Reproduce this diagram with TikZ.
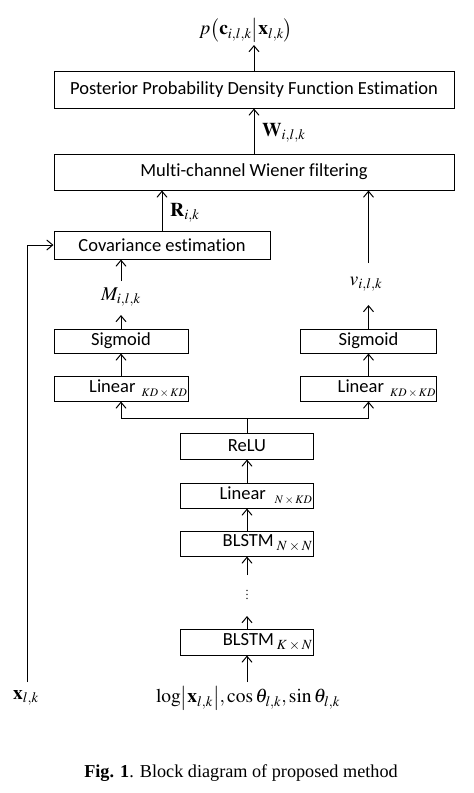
\documentclass[tikz,border=0pt]{standalone}
\usepackage{mathptmx}
\usepackage{fontspec}
\setmainfont{Liberation Serif}
\setsansfont{Carlito}[Ligatures=NoCommon]
\usetikzlibrary{arrows.meta}
\tikzset{
  blk/.style={draw, line width=1pt, inner sep=0pt, anchor=center},
  arr/.style={line width=1pt, -{Straight Barb[length=6pt,width=10pt,line width=1pt]}},
  ln/.style={line width=1pt},
  lbl/.style={font=\fontsize{19.5}{22}\selectfont, inner sep=0pt},
}
\newcommand{\subKD}[1]{\raisebox{-4pt}{\fontsize{11.5}{11.5}\selectfont$#1$}}
\newcommand{\subNN}[1]{\raisebox{-4pt}{\fontsize{14}{14}\selectfont$#1$}}
\begin{document}
\begin{tikzpicture}[x=1pt, y=-1pt, font=\sffamily\fontsize{18.5}{21}\selectfont]
\useasboundingbox (0,0) rectangle (474,793);
% boxes
\node[blk, minimum width=400, minimum height=37] (ppdf) at (254,89.5) {Posterior Probability Density Function Estimation};
\node[blk, minimum width=400, minimum height=36] (mwf) at (254,172) {Multi-channel Wiener filtering};
\node[blk, minimum width=216, minimum height=28] (cov) at (162,245) {Covariance estimation};
\node[blk, minimum width=134, minimum height=24] (sigL) at (121,341) {Sigmoid};
\node[blk, minimum width=136, minimum height=24] (sigR) at (368.5,341) {Sigmoid};
\node[blk, minimum width=134, minimum height=25, text width=132, align=right] (linL) at (121,388.5) {Linear \subKD{KD\times KD}};
\node[blk, minimum width=136, minimum height=25, text width=134, align=right] (linR) at (368.5,388.5) {Linear \subKD{KD\times KD}};
\node[blk, minimum width=133, minimum height=26] (relu) at (247,446) {ReLU};
\node[blk, minimum width=133, minimum height=25, text width=130, align=right] (lin2) at (247,495.5) {Linear\hspace{9pt}\subKD{N\times KD}};
\node[blk, minimum width=133, minimum height=25, text width=130, align=right] (bl1) at (247,543.5) {BLSTM\,\subNN{N\times N}};
\node[blk, minimum width=133, minimum height=26, text width=130, align=right] (bl2) at (247,642) {BLSTM\,\subNN{K\times N}};
% labels
\node[lbl] (ptop) at (246,30) {$p\!\left(\mathbf{c}_{i,l,k}\middle|\mathbf{x}_{l,k}\right)$};
\node[lbl, anchor=west] (wl) at (262,133) {$\mathbf{W}_{i,l,k}$};
\node[lbl, anchor=west] (rl) at (170,213) {$\mathbf{R}_{i,k}$};
\node[lbl] (vl) at (366,284) {$v_{i,l,k}$};
\node[lbl] (ml) at (121,297) {$M_{i,l,k}$};
\node[inner sep=0pt, font=\fontsize{12}{12}\selectfont] (dots) at (247,592) {$\vdots$};
\node[lbl] (inp) at (248,698) {$\log\!\left|\mathbf{x}_{l,k}\right|\!,\cos\theta_{l,k},\sin\theta_{l,k}$};
\node[lbl] (xin) at (26,698) {$\mathbf{x}_{l,k}$};
\node[inner sep=0pt, font=\rmfamily\fontsize{18.2}{21}\selectfont] (cap) at (241,773) {\textbf{Fig. 1}. Block diagram of proposed method};
% coordinates
\coordinate (ptopb) at (254,45);
\coordinate (vtop) at (368.5,263);
\coordinate (vbot) at (368.5,305);
\coordinate (mtop) at (121,281);
\coordinate (mbot) at (121,315);
\coordinate (split) at (247,418);
\coordinate (dtop) at (247,575);
\coordinate (dbot) at (247,616);
\coordinate (inptop) at (247,682);
\coordinate (xtop) at (27,682);
% connectors
\draw[arr] (ppdf.north) -- (ptopb);
\draw[arr] (mwf.north) -- (ppdf.south);
\draw[arr] (cov.north) -- (cov.north |- mwf.south);
\draw[arr] (vtop) -- (vtop |- mwf.south);
\draw[arr] (sigR.north) -- (vbot);
\draw[arr] (mtop) -- (mtop |- cov.south);
\draw[arr] (sigL.north) -- (mbot);
\draw[arr] (linL.north) -- (sigL.south);
\draw[arr] (linR.north) -- (sigR.south);
\draw[ln] (relu.north) -- (split);
\draw[arr] (split) -| (linL.south);
\draw[arr] (split) -| (linR.south);
\draw[arr] (lin2.north) -- (relu.south);
\draw[arr] (bl1.north) -- (lin2.south);
\draw[arr] (dtop) -- (bl1.south);
\draw[arr] (bl2.north) -- (dbot);
\draw[arr] (inptop) -- (bl2.south);
\draw[arr] (xtop) |- (cov.west);
\end{tikzpicture}
\end{document}
